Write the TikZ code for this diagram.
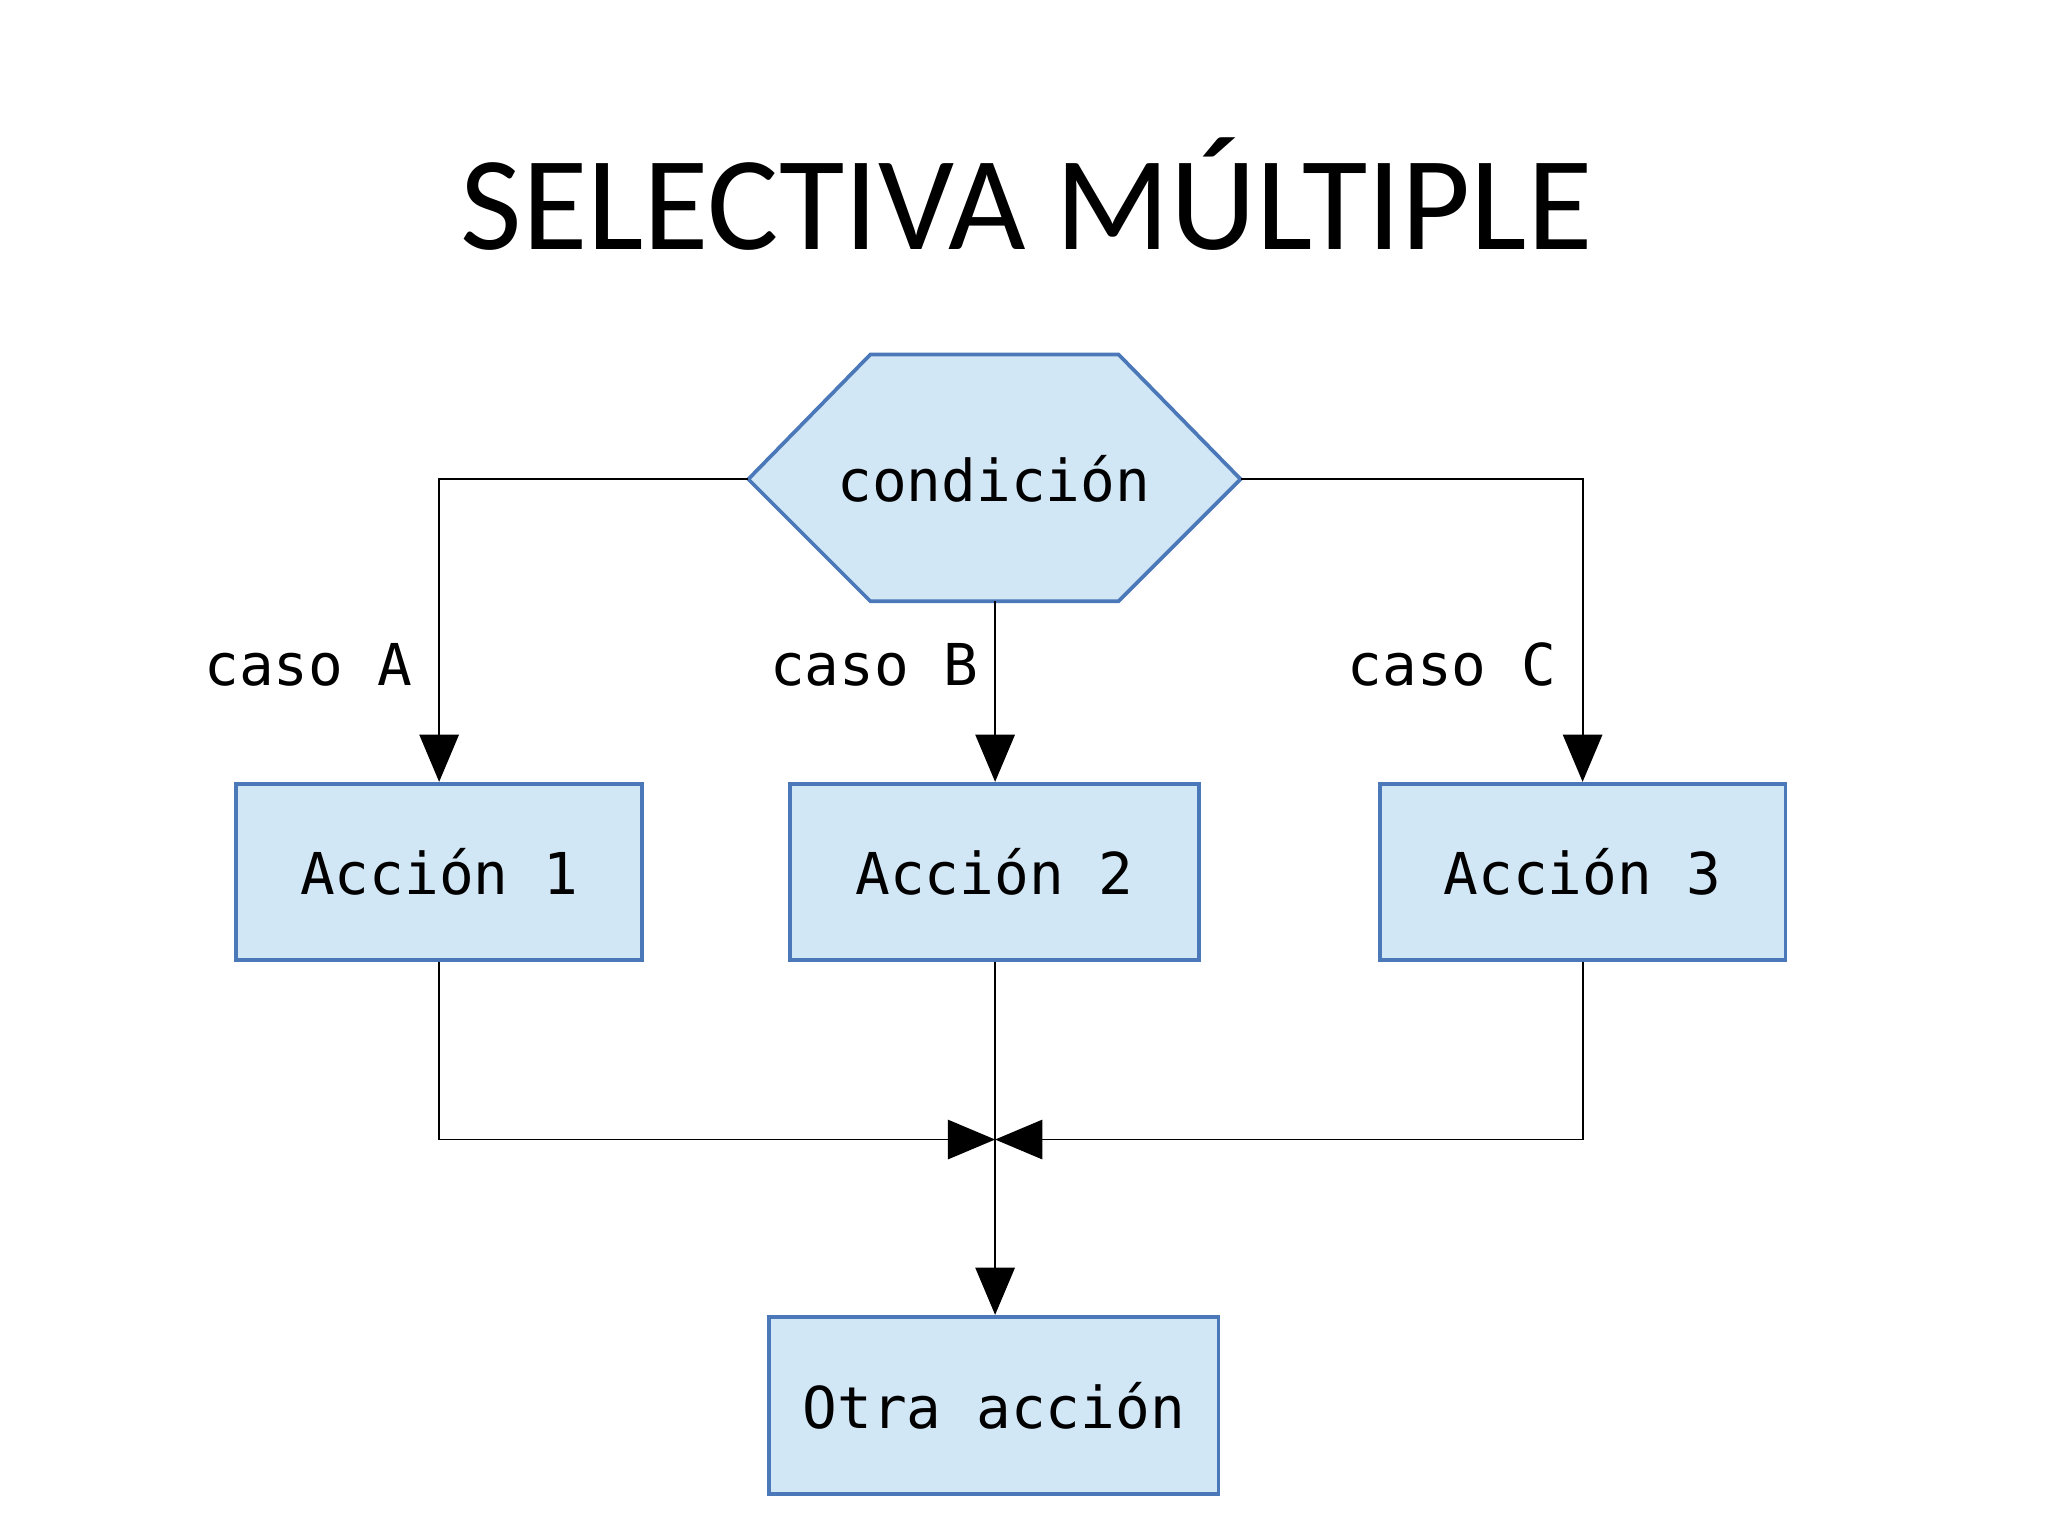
\documentclass[tikz,border=0pt]{standalone}
\usepackage{fontspec}
\setmainfont{Carlito}
\setmonofont{DejaVu Sans Mono}
\usetikzlibrary{arrows.meta,calc}
\definecolor{boxfill}{HTML}{D2E7F6}
\definecolor{boxline}{HTML}{4A78B8}
\begin{document}
\begin{tikzpicture}[x=0.01cm,y=-0.01cm,
         accion/.style = {draw=boxline,fill=boxfill,thick,inner sep=0pt,
            font=\ttfamily\fontsize{12.5}{14}\selectfont},
         flecha/.style = {-{Triangle[length=0.36cm,width=0.3cm]}},
         caso/.style = {font=\ttfamily\fontsize{12.5}{14}\selectfont,anchor=base}
]
   \useasboundingbox[fill=white] (0,0) rectangle (1560,1170);

   % title
   \node[font=\fontsize{29}{34}\selectfont] (title) at (782,148) {SELECTIVA MÚLTIPLE};

   % condition hexagon
   \draw[boxline,fill=boxfill,thick] (570,365) -- (663,270) -- (852,270) -- (945,365)
      -- (852,458) -- (663,458) -- cycle;
   \node[caso,anchor=center] (cond) at (757,365) {condición};
   \coordinate (condW) at (570,365);
   \coordinate (condE) at (945,365);
   \coordinate (condS) at (758,458);

   % actions
   \node[accion,minimum width=3.09cm,minimum height=1.34cm] (a1) at (334.5,664) {Acción 1};
   \node[accion,minimum width=3.11cm,minimum height=1.34cm] (a2) at (757.5,664) {Acción 2};
   \node[accion,minimum width=3.09cm,minimum height=1.34cm] (a3) at (1205.5,664) {Acción 3};
   \node[accion,minimum width=3.42cm,minimum height=1.35cm] (otra) at (757,1070.5) {Otra acción};

   \coordinate (merge) at (758,868);

   % branches
   \draw[flecha] (condW) -| (a1.north);
   \draw[flecha] (condS) -- (condS |- a2.north);
   \draw[flecha] (condE) -| (a3.north);
   \node[caso] (casoA) at (235,522) {caso A};
   \node[caso] (casoB) at (666,522) {caso B};
   \node[caso] (casoC) at (1106,522) {caso C};

   % join
   \draw[flecha] (a1.south) |- (merge);
   \draw[flecha] (a3.south) |- (merge);
   \draw (condS |- a2.south) -- (merge);
   \draw[flecha] (merge) -- (merge |- otra.north);
\end{tikzpicture}
\end{document}
